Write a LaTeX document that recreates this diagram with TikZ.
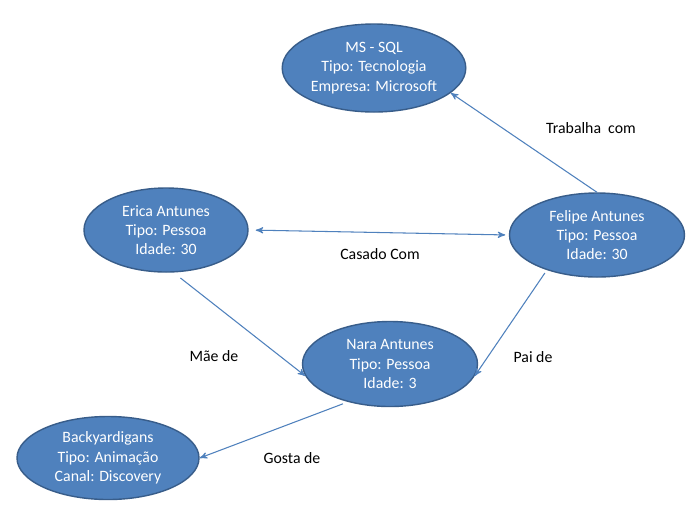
\documentclass[tikz,border=0pt]{standalone}
\usepackage{fontspec}
\setmainfont{Carlito}
\usetikzlibrary{arrows, shapes.geometric}

\begin{document}
\begin{tikzpicture}[>=stealth']

\definecolor{officeblue}{RGB}{79, 129, 189}
\definecolor{officeedge}{RGB}{56, 93, 138}

\useasboundingbox[fill=white] (0,0) rectangle (13.88,-10.38);

\tikzset{
    entity/.style={
        draw=officeedge, thick, fill=officeblue,
        ellipse, inner sep=1pt,
        text=white, font=\small, align=center
    },
    relation/.style={
        draw=officeblue, semithick
    },
    rel label/.style={
        text=black, font=\small
    }
}

% Entities
\node[entity, minimum width=3.56cm, minimum height=1.76cm] (MS) at (7.48,-1.36) {MS - SQL\\Tipo: Tecnologia\\Empresa: Microsoft};
\node[entity, minimum width=3.28cm, minimum height=1.68cm] (Erica) at (3.32,-4.6) {Erica Antunes\\Tipo: Pessoa\\Idade: 30};
\node[entity, minimum width=3.5cm, minimum height=1.68cm] (Felipe) at (11.94,-4.7) {Felipe Antunes\\Tipo: Pessoa\\Idade: 30};
\node[entity, minimum width=3.5cm, minimum height=1.7cm] (Nara) at (7.8,-7.28) {Nara Antunes\\Tipo: Pessoa\\Idade: 3};
\node[entity, minimum width=3.64cm, minimum height=1.66cm] (Backy) at (2.16,-9.16) {Backyardigans\\Tipo: Animação\\Canal: Discovery};

% Relations
\draw[relation, ->] (Felipe.north) -- (MS.-18);
\draw[relation, <->, shorten <=4pt, shorten >=2pt] (Erica.east) -- (Felipe.west);
\draw[relation, ->, shorten <=5pt] (Erica.-80) -- (Nara.188);
\draw[relation, ->, shorten <=2pt] (Felipe.215) -- (Nara.-8);
\draw[relation, ->, shorten <=3pt] (Nara.222) -- (Backy.east);

% Relation labels
\node[rel label] (lTrab) at (11.82,-2.56) {Trabalha\ \ com};
\node[rel label] (lCasado) at (7.6,-5.08) {Casado Com};
\node[rel label] (lMae) at (4.28,-7.12) {Mãe de};
\node[rel label] (lPai) at (10.66,-7.14) {Pai de};
\node[rel label] (lGosta) at (5.84,-9.16) {Gosta de};

\end{tikzpicture}
\end{document}
